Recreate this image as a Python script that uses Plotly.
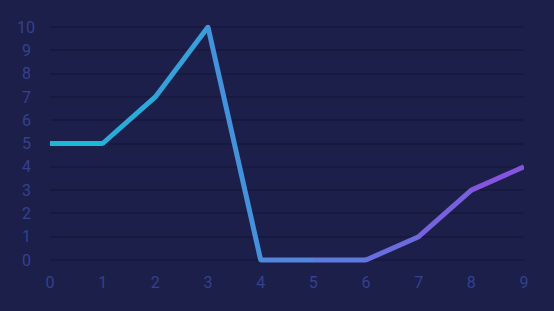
import plotly.graph_objects as go

x_vals = [0, 1, 2, 3, 4, 5, 6, 7, 8, 9]
y_vals = [5, 5, 7, 10, 0, 0, 0, 1, 3, 4]
x_ticks = [0, 1, 2, 3, 4, 5, 6, 7, 8, 9]
y_ticks = [0, 1, 2, 3, 4, 5, 6, 7, 8, 9, 10]

c_start = (22, 190, 216)
c_end = (140, 78, 224)


def mix(t):
    return "rgb(%d,%d,%d)" % tuple(round(a + (b - a) * t) for a, b in zip(c_start, c_end))


fig = go.Figure()
n = len(x_vals)
span = x_vals[-1] - x_vals[0]
for i in range(n - 1):
    t = ((x_vals[i] + x_vals[i + 1]) / 2 - x_vals[0]) / span
    fig.add_trace(go.Scatter(
        x=[x_vals[i], x_vals[i + 1]], y=[y_vals[i], y_vals[i + 1]], mode="lines",
        line=dict(color=mix(t), width=5),
        hoverinfo="skip", showlegend=False,
    ))
# joints
fig.add_trace(go.Scatter(
    x=x_vals[1:-1], y=y_vals[1:-1], mode="markers",
    marker=dict(size=4.5, color=[mix((v - x_vals[0]) / span) for v in x_vals[1:-1]],
                line=dict(width=0)),
    hoverinfo="skip", showlegend=False,
))

tick_font = dict(family="Roboto", size=16, color="#34418f")
# labels appear centred: pad single-digit labels so they sit centred under "10"
y_text = [str(v) if len(str(v)) > 1 else str(v) + "\u00a0" for v in y_ticks]

fig.update_layout(
    width=554, height=311,
    margin=dict(l=50, r=30, t=20, b=44),
    paper_bgcolor="#1c1f4a",
    plot_bgcolor="#1c1f4a",
    showlegend=False,
    xaxis=dict(
        range=[0, 9], tickmode="array", tickvals=x_ticks,
        showgrid=False, zeroline=False, showline=False,
        tickfont=tick_font, ticks="", ticklabelstandoff=4,
    ),
    yaxis=dict(
        range=[-0.3, 10.3], tickmode="array", tickvals=y_ticks, ticktext=y_text,
        showgrid=True, gridcolor="#171a3e", gridwidth=1.5,
        zeroline=False, showline=False,
        tickfont=tick_font, ticks="", ticklabelstandoff=14,
    ),
)

fig.write_html("out.html")
